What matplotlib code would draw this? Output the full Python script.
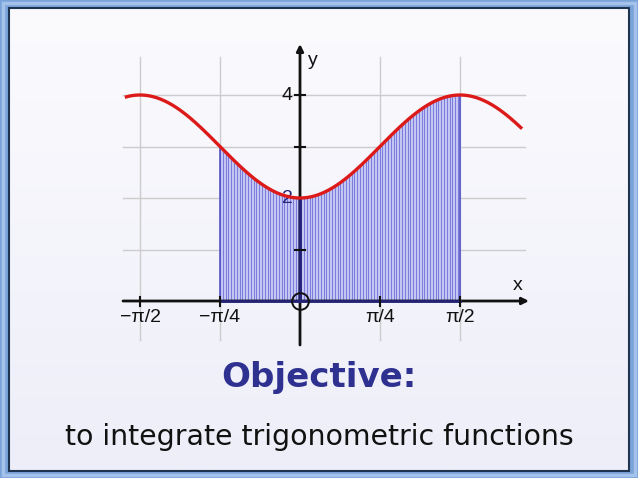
import numpy as np
import matplotlib.pyplot as plt
from matplotlib.patches import Rectangle
from matplotlib.colors import LinearSegmentedColormap

# curve y = 3 - cos(2x), area shaded between -pi/4 and pi/2
x_start, x_end = -1.72, 2.18
shade_from, shade_to = -np.pi / 4, np.pi / 2
x_ticks = [-np.pi / 2, -np.pi / 4, np.pi / 4, np.pi / 2]
x_tick_labels = ['−π/2', '−π/4', 'π/4', 'π/2']
y_ticks = [1, 2, 3, 4]
y_labels = {2: '2', 4: '4'}

title = 'Objective:'
subtitle = 'to integrate trigonometric functions'


def f(x):
    return 3 - np.cos(2 * x)


W, H = 638, 478
fig = plt.figure(figsize=(W / 100, H / 100), dpi=100)

# slide frame and background, pixel coordinates
bg = fig.add_axes([0, 0, 1, 1])
bg.set_xlim(0, W)
bg.set_ylim(H, 0)
bg.axis('off')
bg.add_patch(Rectangle((0, 0), W, H, color='#7aa3d8'))
bg.add_patch(Rectangle((3, 3), W - 6, H - 6, fill=False, ec='#a4c2ea', lw=2.5))
grad = np.linspace(0, 1, 256).reshape(-1, 1)
cmap = LinearSegmentedColormap.from_list('slide', ['#fbfbfe', '#eeeef9'])
bg.imshow(grad, extent=(9, 628, 470, 8), cmap=cmap, aspect='auto', zorder=2)
bg.add_patch(Rectangle((8.5, 7.5), 620, 463, fill=False, ec='#1f3450', lw=1.5, zorder=3))

bg.text(W / 2, 377, title, ha='center', va='center', fontsize=24.5,
        fontweight='bold', color='#2e3190', family='DejaVu Sans')
bg.text(W / 2, 437, subtitle, ha='center', va='center', fontsize=20.4,
        color='#111111', family='DejaVu Sans')

# graph axes placed in pixels: x=0 at px 300, y=0 at px 301
xs = 160 / (np.pi / 2)
ys = 51.5
L, R, T, B = 100, 540, 40, 350
ax = fig.add_axes([L / W, (H - B) / H, (R - L) / W, (B - T) / H])
ax.set_xlim((L - 300) / xs, (R - 300) / xs)
ax.set_ylim((301 - B) / ys, (301 - T) / ys)
ax.axis('off')
ax.patch.set_alpha(0)

def dx(px):
    return (px - 300) / xs

def dy(py):
    return (301 - py) / ys

# grid
for xt in x_ticks:
    ax.plot([xt, xt], [dy(340), dy(57)], color='#cccccc', lw=1, zorder=1)
for yt in y_ticks:
    ax.plot([dx(123), dx(525)], [yt, yt], color='#cccccc', lw=1, zorder=1)

# shaded area with vertical strokes
xf = np.linspace(shade_from, shade_to, 300)
ax.fill_between(xf, 0, f(xf), color='#c3c5f2', lw=0, zorder=2)
xv = np.arange(shade_from, shade_to + 1e-9, 2.8 / xs)
ax.vlines(xv, 0, f(xv), color='#6e6ed8', lw=0.6, zorder=2)
ax.vlines([shade_from, shade_to], 0, f(np.array([shade_from, shade_to])),
          color='#4a4ac4', lw=1.1, zorder=2)

# axes with arrows
ax.annotate('', xy=(dx(529), 0), xytext=(dx(123), 0),
            arrowprops=dict(arrowstyle='-|>', color='#111111', lw=2,
                            mutation_scale=10, shrinkA=0, shrinkB=0), zorder=3)
ax.annotate('', xy=(0, dy(44)), xytext=(0, dy(345)),
            arrowprops=dict(arrowstyle='-|>', color='#111111', lw=2,
                            mutation_scale=10, shrinkA=0, shrinkB=0), zorder=3)
ax.plot([shade_from, shade_to], [0, 0], color='#23237a', lw=2, zorder=4)
ax.plot([0, 0], [0, f(0)], color='#23237a', lw=2, zorder=4)

for xt in x_ticks:
    ax.plot([xt, xt], [dy(297), dy(306)], color='#111111', lw=1.5, zorder=4)
for yt in y_ticks:
    ax.plot([dx(295), dx(305)], [yt, yt], color='#111111', lw=1.5, zorder=4)

for xt, lab in zip(x_ticks, x_tick_labels):
    ax.text(xt, dy(318), lab, ha='center', va='center', fontsize=14,
            family='Liberation Sans', color='#111111')
for yt, lab in y_labels.items():
    ax.text(dx(287), yt, lab, ha='center', va='center', fontsize=14,
            family='Liberation Sans',
            color='#23237a' if yt == 2 else '#111111', zorder=5)
ax.text(dx(313), dy(60), 'y', ha='center', va='center', fontsize=14,
        family='Liberation Sans', color='#111111')
ax.text(dx(518), dy(286), 'x', ha='center', va='center', fontsize=14,
        family='Liberation Sans', color='#111111')

# curve
xc = np.linspace(x_start, x_end, 400)
ax.plot(xc, f(xc), color='#dd1a1a', lw=2.4, zorder=6, solid_capstyle='butt')

# origin marker
ax.plot([0], [0], 'o', ms=12, mfc='none', mec='#111111', mew=1.4, zorder=7)

fig.savefig('out.png', dpi=100)
